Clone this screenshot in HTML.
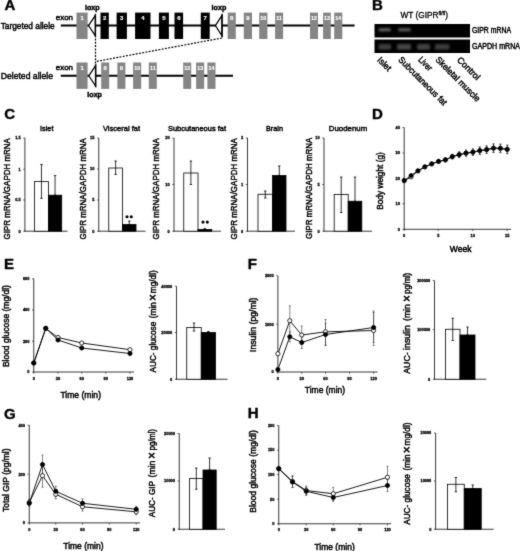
<!DOCTYPE html>
<html lang="en">
<head>
<meta charset="utf-8">
<title>Figure</title>
<style>
html,body{margin:0;padding:0;background:#fff;}
body{width:520px;height:551px;overflow:hidden;}
svg{display:block;font-family:"Liberation Sans", sans-serif;}
</style>
</head>
<body>
<svg width="520" height="551" viewBox="0 0 520 551">
<defs><filter id="bl" x="-20%" y="-50%" width="140%" height="200%"><feGaussianBlur stdDeviation="0.9"/></filter>
<filter id="soft" x="0" y="0" width="100%" height="100%" color-interpolation-filters="sRGB"><feConvolveMatrix order="3" kernelMatrix="0.0200 0.0800 0.0200 0.0800 0.6000 0.0800 0.0200 0.0800 0.0200" edgeMode="duplicate" preserveAlpha="true"/></filter></defs>
<g filter="url(#soft)">
<rect x="-5" y="-5" width="530" height="561" fill="#fff"/>
<text x="4.5" y="10.1" font-size="15" font-weight="bold" text-anchor="start" fill="#000" stroke="#000" stroke-width="0.4" >A</text>
<text x="0.7" y="29" font-size="8.5" font-weight="normal" text-anchor="start" fill="#000" stroke="#000" stroke-width="0.45" textLength="54" lengthAdjust="spacingAndGlyphs" >Targeted allele</text>
<text x="55.8" y="20" font-size="7.7" font-weight="normal" text-anchor="start" fill="#000" stroke="#000" stroke-width="0.45" textLength="17.2" lengthAdjust="spacingAndGlyphs" >exon</text>
<line x1="60.8" y1="25.6" x2="354.6" y2="25.6" stroke="#000" stroke-width="2.0" />
<rect x="76.5" y="12.6" width="11.1" height="26.4" fill="#858585"/>
<text x="82.05" y="20.1" font-size="6" font-weight="bold" text-anchor="middle" fill="#fff" stroke="#fff" stroke-width="0.15" >1</text>
<rect x="100.5" y="12.6" width="8.3" height="26.4" fill="#000"/>
<text x="104.65" y="20.1" font-size="6" font-weight="bold" text-anchor="middle" fill="#fff" stroke="#fff" stroke-width="0.15" >2</text>
<rect x="116.6" y="12.6" width="10.3" height="26.4" fill="#000"/>
<text x="121.75" y="20.1" font-size="6" font-weight="bold" text-anchor="middle" fill="#fff" stroke="#fff" stroke-width="0.15" >3</text>
<rect x="135.1" y="12.6" width="15.4" height="26.4" fill="#000"/>
<text x="142.8" y="20.1" font-size="6" font-weight="bold" text-anchor="middle" fill="#fff" stroke="#fff" stroke-width="0.15" >4</text>
<rect x="158.9" y="12.6" width="10.0" height="26.4" fill="#000"/>
<text x="163.9" y="20.1" font-size="6" font-weight="bold" text-anchor="middle" fill="#fff" stroke="#fff" stroke-width="0.15" >5</text>
<rect x="174.5" y="12.6" width="8.6" height="26.4" fill="#000"/>
<text x="178.8" y="20.1" font-size="6" font-weight="bold" text-anchor="middle" fill="#fff" stroke="#fff" stroke-width="0.15" >6</text>
<rect x="200.8" y="12.6" width="8.9" height="26.4" fill="#000"/>
<text x="205.25" y="20.1" font-size="6" font-weight="bold" text-anchor="middle" fill="#fff" stroke="#fff" stroke-width="0.15" >7</text>
<rect x="227.7" y="12.6" width="8.1" height="26.4" fill="#858585"/>
<text x="231.75" y="20.1" font-size="6" font-weight="bold" text-anchor="middle" fill="#fff" stroke="#fff" stroke-width="0.15" >8</text>
<rect x="243.8" y="12.6" width="8.2" height="26.4" fill="#858585"/>
<text x="247.9" y="20.1" font-size="6" font-weight="bold" text-anchor="middle" fill="#fff" stroke="#fff" stroke-width="0.15" >9</text>
<rect x="259.2" y="12.6" width="8.2" height="26.4" fill="#858585"/>
<text x="263.3" y="20.1" font-size="5.4" font-weight="bold" text-anchor="middle" fill="#fff" stroke="#fff" stroke-width="0.15" >10</text>
<rect x="275.1" y="12.6" width="8.0" height="26.4" fill="#858585"/>
<text x="279.1" y="20.1" font-size="5.4" font-weight="bold" text-anchor="middle" fill="#fff" stroke="#fff" stroke-width="0.15" >11</text>
<rect x="310" y="12.6" width="8" height="26.4" fill="#858585"/>
<text x="314.0" y="20.1" font-size="5.4" font-weight="bold" text-anchor="middle" fill="#fff" stroke="#fff" stroke-width="0.15" >12</text>
<rect x="323.1" y="12.6" width="7.7" height="26.4" fill="#858585"/>
<text x="326.95" y="20.1" font-size="5.4" font-weight="bold" text-anchor="middle" fill="#fff" stroke="#fff" stroke-width="0.15" >13</text>
<rect x="334.2" y="12.6" width="8.1" height="26.4" fill="#858585"/>
<text x="338.25" y="20.1" font-size="5.4" font-weight="bold" text-anchor="middle" fill="#fff" stroke="#fff" stroke-width="0.15" >14</text>
<polygon points="88.5,25.6 95.4,15.3 95.4,35.900000000000006" fill="#fff" stroke="#000" stroke-width="1.25" stroke-linejoin="miter"/>
<line x1="95.4" y1="14.100000000000001" x2="95.4" y2="37.10000000000001" stroke="#000" stroke-width="1.4" />
<polygon points="215.4,25.6 222,15.3 222,35.900000000000006" fill="#fff" stroke="#000" stroke-width="1.25" stroke-linejoin="miter"/>
<line x1="222" y1="14.100000000000001" x2="222" y2="37.10000000000001" stroke="#000" stroke-width="1.4" />
<text x="85" y="9.6" font-size="7.6" font-weight="bold" text-anchor="start" fill="#000" stroke="#000" stroke-width="0.45" textLength="14.7" lengthAdjust="spacingAndGlyphs" >loxp</text>
<text x="211.6" y="9.6" font-size="7.6" font-weight="bold" text-anchor="start" fill="#000" stroke="#000" stroke-width="0.45" textLength="14.7" lengthAdjust="spacingAndGlyphs" >loxp</text>
<line x1="95.5" y1="38.5" x2="95.5" y2="65" stroke="#000" stroke-width="1.2" stroke-dasharray="2,1.3"/>
<line x1="222" y1="38" x2="95.8" y2="61.5" stroke="#000" stroke-width="1.2" stroke-dasharray="2,1.3"/>
<text x="0.7" y="79" font-size="8.5" font-weight="normal" text-anchor="start" fill="#000" stroke="#000" stroke-width="0.45" textLength="52.3" lengthAdjust="spacingAndGlyphs" >Deleted allele</text>
<text x="55.8" y="69.8" font-size="7.7" font-weight="normal" text-anchor="start" fill="#000" stroke="#000" stroke-width="0.45" textLength="17.2" lengthAdjust="spacingAndGlyphs" >exon</text>
<line x1="60.8" y1="75.8" x2="233" y2="75.8" stroke="#000" stroke-width="2.0" />
<rect x="76.5" y="62.5" width="11.1" height="26.4" fill="#858585"/>
<text x="82.05" y="70.0" font-size="6" font-weight="bold" text-anchor="middle" fill="#fff" stroke="#fff" stroke-width="0.15" >1</text>
<rect x="101.2" y="62.5" width="8.0" height="26.4" fill="#858585"/>
<text x="105.2" y="70.0" font-size="6" font-weight="bold" text-anchor="middle" fill="#fff" stroke="#fff" stroke-width="0.15" >8</text>
<rect x="117.4" y="62.5" width="8.0" height="26.4" fill="#858585"/>
<text x="121.4" y="70.0" font-size="6" font-weight="bold" text-anchor="middle" fill="#fff" stroke="#fff" stroke-width="0.15" >9</text>
<rect x="133.1" y="62.5" width="8.1" height="26.4" fill="#858585"/>
<text x="137.15" y="70.0" font-size="5.4" font-weight="bold" text-anchor="middle" fill="#fff" stroke="#fff" stroke-width="0.15" >10</text>
<rect x="148.8" y="62.5" width="8.0" height="26.4" fill="#858585"/>
<text x="152.8" y="70.0" font-size="5.4" font-weight="bold" text-anchor="middle" fill="#fff" stroke="#fff" stroke-width="0.15" >11</text>
<rect x="183.2" y="62.5" width="8.0" height="26.4" fill="#858585"/>
<text x="187.2" y="70.0" font-size="5.4" font-weight="bold" text-anchor="middle" fill="#fff" stroke="#fff" stroke-width="0.15" >12</text>
<rect x="196.1" y="62.5" width="8.1" height="26.4" fill="#858585"/>
<text x="200.15" y="70.0" font-size="5.4" font-weight="bold" text-anchor="middle" fill="#fff" stroke="#fff" stroke-width="0.15" >13</text>
<rect x="207.4" y="62.5" width="8.1" height="26.4" fill="#858585"/>
<text x="211.45" y="70.0" font-size="5.4" font-weight="bold" text-anchor="middle" fill="#fff" stroke="#fff" stroke-width="0.15" >14</text>
<polygon points="88.8,75.8 95.6,65.6 95.6,86.0" fill="#fff" stroke="#000" stroke-width="1.25" stroke-linejoin="miter"/>
<line x1="95.6" y1="64.39999999999999" x2="95.6" y2="87.2" stroke="#000" stroke-width="1.4" />
<text x="87.3" y="97.3" font-size="7.6" font-weight="bold" text-anchor="start" fill="#000" stroke="#000" stroke-width="0.45" textLength="14.7" lengthAdjust="spacingAndGlyphs" >loxp</text>
<text x="371.9" y="10.0" font-size="15" font-weight="bold" text-anchor="start" fill="#000" stroke="#000" stroke-width="0.4" >B</text>
<text x="400.5" y="18.2" font-size="8.3" stroke="#000" stroke-width="0.3" textLength="47.5" lengthAdjust="spacingAndGlyphs">WT (GIPR<tspan font-size="5.4" dy="-3.2">fl/fl</tspan><tspan dy="3.2">)</tspan></text>
<rect x="374.5" y="24" width="95.5" height="13.5" fill="#000"/>
<rect x="374.5" y="39.5" width="95.5" height="13.5" fill="#000"/>
<rect x="378.5" y="28.3" width="12.5" height="3" rx="1.5" fill="#6a6a6a" filter="url(#bl)"/>
<rect x="398" y="28.3" width="13" height="3" rx="1.5" fill="#626262" filter="url(#bl)"/>
<rect x="378.5" y="44.1" width="12.5" height="5.6" rx="1.5" fill="#3e3e3e" filter="url(#bl)"/>
<rect x="397" y="44.1" width="14" height="5.6" rx="1.5" fill="#444" filter="url(#bl)"/>
<rect x="417" y="44.1" width="13" height="5.6" rx="1.5" fill="#424242" filter="url(#bl)"/>
<rect x="435" y="44.1" width="14.5" height="5.6" rx="1.5" fill="#3a3a3a" filter="url(#bl)"/>
<text x="472" y="33" font-size="8.3" font-weight="normal" text-anchor="start" fill="#000" stroke="#000" stroke-width="0.45" textLength="39" lengthAdjust="spacingAndGlyphs" >GIPR mRNA</text>
<text x="472" y="48.8" font-size="8.3" font-weight="normal" text-anchor="start" fill="#000" stroke="#000" stroke-width="0.45" textLength="48" lengthAdjust="spacingAndGlyphs" >GAPDH mRNA</text>
<text transform="translate(376.8,60.5) rotate(45)" font-size="8.8" font-weight="normal" text-anchor="start" fill="#000" stroke="#000" stroke-width="0.45" textLength="15.7" lengthAdjust="spacingAndGlyphs" >Islet</text>
<text transform="translate(397.8,60.3) rotate(45)" font-size="8.8" font-weight="normal" text-anchor="start" fill="#000" stroke="#000" stroke-width="0.45" textLength="64.5" lengthAdjust="spacingAndGlyphs" >Subcutaneous fat</text>
<text transform="translate(417.7,60.3) rotate(45)" font-size="8.8" font-weight="normal" text-anchor="start" fill="#000" stroke="#000" stroke-width="0.45" textLength="16" lengthAdjust="spacingAndGlyphs" >Liver</text>
<text transform="translate(435,60.3) rotate(45)" font-size="8.8" font-weight="normal" text-anchor="start" fill="#000" stroke="#000" stroke-width="0.45" textLength="59" lengthAdjust="spacingAndGlyphs" >Skeletal muscle</text>
<text transform="translate(456.5,60.5) rotate(45)" font-size="8.8" font-weight="normal" text-anchor="start" fill="#000" stroke="#000" stroke-width="0.45" textLength="28.5" lengthAdjust="spacingAndGlyphs" >Control</text>
<text x="4.3" y="119.4" font-size="15" font-weight="bold" text-anchor="start" fill="#000" stroke="#000" stroke-width="0.4" >C</text>
<line x1="24.9" y1="138" x2="24.9" y2="231.64999999999998" stroke="#222" stroke-width="0.9" />
<line x1="24.45" y1="231.2" x2="67.5" y2="231.2" stroke="#222" stroke-width="0.9" />
<line x1="23.2" y1="138" x2="24.9" y2="138" stroke="#222" stroke-width="0.7" />
<text x="20.599999999999998" y="139.4" font-size="3.9" font-weight="bold" text-anchor="end" fill="#000" stroke="#000" stroke-width="0.3" >1.5</text>
<line x1="23.2" y1="169.2" x2="24.9" y2="169.2" stroke="#222" stroke-width="0.7" />
<text x="20.599999999999998" y="170.6" font-size="3.9" font-weight="bold" text-anchor="end" fill="#000" stroke="#000" stroke-width="0.3" >1</text>
<line x1="23.2" y1="200" x2="24.9" y2="200" stroke="#222" stroke-width="0.7" />
<text x="20.599999999999998" y="201.4" font-size="3.9" font-weight="bold" text-anchor="end" fill="#000" stroke="#000" stroke-width="0.3" >0.5</text>
<line x1="23.2" y1="231.2" x2="24.9" y2="231.2" stroke="#222" stroke-width="0.7" />
<text x="20.599999999999998" y="232.6" font-size="3.9" font-weight="bold" text-anchor="end" fill="#000" stroke="#000" stroke-width="0.3" >0</text>
<rect x="34.5" y="181.6" width="13.899999999999999" height="49.599999999999994" fill="#fff" stroke="#000" stroke-width="0.8"/>
<line x1="41.45" y1="164.5" x2="41.45" y2="198.4" stroke="#000" stroke-width="0.8" />
<line x1="40.25" y1="164.5" x2="42.650000000000006" y2="164.5" stroke="#000" stroke-width="0.8" />
<line x1="40.25" y1="198.4" x2="42.650000000000006" y2="198.4" stroke="#000" stroke-width="0.8" />
<rect x="48.4" y="195.2" width="13.300000000000004" height="36.0" fill="#000" stroke="#000" stroke-width="0.8"/>
<line x1="55.05" y1="175.6" x2="55.05" y2="195.2" stroke="#000" stroke-width="0.8" />
<line x1="53.849999999999994" y1="175.6" x2="56.25" y2="175.6" stroke="#000" stroke-width="0.8" />
<line x1="53.849999999999994" y1="195.2" x2="56.25" y2="195.2" stroke="#000" stroke-width="0.8" />
<text x="40" y="130.6" font-size="8" font-weight="normal" text-anchor="start" fill="#000" stroke="#000" stroke-width="0.45" textLength="13.5" lengthAdjust="spacingAndGlyphs" >Islet</text>
<text transform="translate(9.6,188.8) rotate(-90)" font-size="8.7" font-weight="normal" text-anchor="middle" fill="#000" stroke="#000" stroke-width="0.45" textLength="101.5" lengthAdjust="spacingAndGlyphs" >GIPR mRNA/GAPDH mRNA</text>
<line x1="98.75" y1="138" x2="98.75" y2="231.64999999999998" stroke="#222" stroke-width="0.9" />
<line x1="98.3" y1="231.2" x2="145.5" y2="231.2" stroke="#222" stroke-width="0.9" />
<line x1="97.05" y1="138" x2="98.75" y2="138" stroke="#222" stroke-width="0.7" />
<text x="94.45" y="139.4" font-size="3.9" font-weight="bold" text-anchor="end" fill="#000" stroke="#000" stroke-width="0.3" >15</text>
<line x1="97.05" y1="169" x2="98.75" y2="169" stroke="#222" stroke-width="0.7" />
<text x="94.45" y="170.4" font-size="3.9" font-weight="bold" text-anchor="end" fill="#000" stroke="#000" stroke-width="0.3" >10</text>
<line x1="97.05" y1="200" x2="98.75" y2="200" stroke="#222" stroke-width="0.7" />
<text x="94.45" y="201.4" font-size="3.9" font-weight="bold" text-anchor="end" fill="#000" stroke="#000" stroke-width="0.3" >5</text>
<line x1="97.05" y1="231.2" x2="98.75" y2="231.2" stroke="#222" stroke-width="0.7" />
<text x="94.45" y="232.6" font-size="3.9" font-weight="bold" text-anchor="end" fill="#000" stroke="#000" stroke-width="0.3" >0</text>
<rect x="108.75" y="168" width="13.75" height="63.19999999999999" fill="#fff" stroke="#000" stroke-width="0.8"/>
<line x1="115.625" y1="161" x2="115.625" y2="174.5" stroke="#000" stroke-width="0.8" />
<line x1="114.425" y1="161" x2="116.825" y2="161" stroke="#000" stroke-width="0.8" />
<line x1="114.425" y1="174.5" x2="116.825" y2="174.5" stroke="#000" stroke-width="0.8" />
<rect x="122.5" y="224.5" width="13.5" height="6.699999999999989" fill="#000" stroke="#000" stroke-width="0.8"/>
<line x1="129.25" y1="221" x2="129.25" y2="224.5" stroke="#000" stroke-width="0.8" />
<line x1="128.05" y1="221" x2="130.45" y2="221" stroke="#000" stroke-width="0.8" />
<line x1="128.05" y1="224.5" x2="130.45" y2="224.5" stroke="#000" stroke-width="0.8" />
<text x="103" y="130.6" font-size="8" font-weight="normal" text-anchor="start" fill="#000" stroke="#000" stroke-width="0.45" textLength="37" lengthAdjust="spacingAndGlyphs" >Visceral fat</text>
<circle cx="127" cy="216.8" r="1.55" fill="#000" stroke="#000" stroke-width="0"/>
<circle cx="131.3" cy="216.8" r="1.55" fill="#000" stroke="#000" stroke-width="0"/>
<text transform="translate(85.8,188.8) rotate(-90)" font-size="8.7" font-weight="normal" text-anchor="middle" fill="#000" stroke="#000" stroke-width="0.45" textLength="101.5" lengthAdjust="spacingAndGlyphs" >GIPR mRNA/GAPDH mRNA</text>
<line x1="174" y1="138" x2="174" y2="231.64999999999998" stroke="#222" stroke-width="0.9" />
<line x1="173.55" y1="231.2" x2="221" y2="231.2" stroke="#222" stroke-width="0.9" />
<line x1="172.3" y1="138" x2="174" y2="138" stroke="#222" stroke-width="0.7" />
<text x="169.7" y="139.4" font-size="3.9" font-weight="bold" text-anchor="end" fill="#000" stroke="#000" stroke-width="0.3" >20</text>
<line x1="172.3" y1="184.5" x2="174" y2="184.5" stroke="#222" stroke-width="0.7" />
<text x="169.7" y="185.9" font-size="3.9" font-weight="bold" text-anchor="end" fill="#000" stroke="#000" stroke-width="0.3" >10</text>
<line x1="172.3" y1="231.2" x2="174" y2="231.2" stroke="#222" stroke-width="0.7" />
<text x="169.7" y="232.6" font-size="3.9" font-weight="bold" text-anchor="end" fill="#000" stroke="#000" stroke-width="0.3" >0</text>
<rect x="183.75" y="173" width="14.25" height="58.19999999999999" fill="#fff" stroke="#000" stroke-width="0.8"/>
<line x1="190.875" y1="161" x2="190.875" y2="184.5" stroke="#000" stroke-width="0.8" />
<line x1="189.675" y1="161" x2="192.075" y2="161" stroke="#000" stroke-width="0.8" />
<line x1="189.675" y1="184.5" x2="192.075" y2="184.5" stroke="#000" stroke-width="0.8" />
<rect x="198" y="229.5" width="13.75" height="1.6999999999999886" fill="#000" stroke="#000" stroke-width="0.8"/>
<line x1="204.875" y1="228.5" x2="204.875" y2="229.5" stroke="#000" stroke-width="0.8" />
<line x1="203.675" y1="228.5" x2="206.075" y2="228.5" stroke="#000" stroke-width="0.8" />
<line x1="203.675" y1="229.5" x2="206.075" y2="229.5" stroke="#000" stroke-width="0.8" />
<text x="168" y="130.6" font-size="8" font-weight="normal" text-anchor="start" fill="#000" stroke="#000" stroke-width="0.45" textLength="58" lengthAdjust="spacingAndGlyphs" >Subcutaneous fat</text>
<circle cx="203" cy="222.1" r="1.55" fill="#000" stroke="#000" stroke-width="0"/>
<circle cx="207.3" cy="222.1" r="1.55" fill="#000" stroke="#000" stroke-width="0"/>
<text transform="translate(159.2,188.8) rotate(-90)" font-size="8.7" font-weight="normal" text-anchor="middle" fill="#000" stroke="#000" stroke-width="0.45" textLength="101.5" lengthAdjust="spacingAndGlyphs" >GIPR mRNA/GAPDH mRNA</text>
<line x1="247.5" y1="138" x2="247.5" y2="231.64999999999998" stroke="#222" stroke-width="0.9" />
<line x1="247.05" y1="231.2" x2="295" y2="231.2" stroke="#222" stroke-width="0.9" />
<line x1="245.8" y1="138" x2="247.5" y2="138" stroke="#222" stroke-width="0.7" />
<text x="243.2" y="139.4" font-size="3.9" font-weight="bold" text-anchor="end" fill="#000" stroke="#000" stroke-width="0.3" >2</text>
<line x1="245.8" y1="184.5" x2="247.5" y2="184.5" stroke="#222" stroke-width="0.7" />
<text x="243.2" y="185.9" font-size="3.9" font-weight="bold" text-anchor="end" fill="#000" stroke="#000" stroke-width="0.3" >1</text>
<line x1="245.8" y1="231.2" x2="247.5" y2="231.2" stroke="#222" stroke-width="0.7" />
<text x="243.2" y="232.6" font-size="3.9" font-weight="bold" text-anchor="end" fill="#000" stroke="#000" stroke-width="0.3" >0</text>
<rect x="258" y="194.25" width="14.5" height="36.94999999999999" fill="#fff" stroke="#000" stroke-width="0.8"/>
<line x1="265.25" y1="191" x2="265.25" y2="198" stroke="#000" stroke-width="0.8" />
<line x1="264.05" y1="191" x2="266.45" y2="191" stroke="#000" stroke-width="0.8" />
<line x1="264.05" y1="198" x2="266.45" y2="198" stroke="#000" stroke-width="0.8" />
<rect x="272.5" y="175.5" width="13.5" height="55.69999999999999" fill="#000" stroke="#000" stroke-width="0.8"/>
<line x1="279.25" y1="166" x2="279.25" y2="175.5" stroke="#000" stroke-width="0.8" />
<line x1="278.05" y1="166" x2="280.45" y2="166" stroke="#000" stroke-width="0.8" />
<line x1="278.05" y1="175.5" x2="280.45" y2="175.5" stroke="#000" stroke-width="0.8" />
<text x="266" y="130.6" font-size="8" font-weight="normal" text-anchor="start" fill="#000" stroke="#000" stroke-width="0.45" textLength="17" lengthAdjust="spacingAndGlyphs" >Brain</text>
<text transform="translate(236.5,188.8) rotate(-90)" font-size="8.7" font-weight="normal" text-anchor="middle" fill="#000" stroke="#000" stroke-width="0.45" textLength="101.5" lengthAdjust="spacingAndGlyphs" >GIPR mRNA/GAPDH mRNA</text>
<line x1="324" y1="138" x2="324" y2="231.64999999999998" stroke="#222" stroke-width="0.9" />
<line x1="323.55" y1="231.2" x2="372" y2="231.2" stroke="#222" stroke-width="0.9" />
<line x1="322.3" y1="138" x2="324" y2="138" stroke="#222" stroke-width="0.7" />
<text x="319.7" y="139.4" font-size="3.9" font-weight="bold" text-anchor="end" fill="#000" stroke="#000" stroke-width="0.3" >10</text>
<line x1="322.3" y1="184.5" x2="324" y2="184.5" stroke="#222" stroke-width="0.7" />
<text x="319.7" y="185.9" font-size="3.9" font-weight="bold" text-anchor="end" fill="#000" stroke="#000" stroke-width="0.3" >5</text>
<line x1="322.3" y1="231.2" x2="324" y2="231.2" stroke="#222" stroke-width="0.7" />
<text x="319.7" y="232.6" font-size="3.9" font-weight="bold" text-anchor="end" fill="#000" stroke="#000" stroke-width="0.3" >0</text>
<rect x="334.2" y="194.5" width="14.0" height="36.69999999999999" fill="#fff" stroke="#000" stroke-width="0.8"/>
<line x1="341.2" y1="177" x2="341.2" y2="212.5" stroke="#000" stroke-width="0.8" />
<line x1="340.0" y1="177" x2="342.4" y2="177" stroke="#000" stroke-width="0.8" />
<line x1="340.0" y1="212.5" x2="342.4" y2="212.5" stroke="#000" stroke-width="0.8" />
<rect x="348.2" y="201.25" width="13.600000000000023" height="29.94999999999999" fill="#000" stroke="#000" stroke-width="0.8"/>
<line x1="355.0" y1="177" x2="355.0" y2="201.25" stroke="#000" stroke-width="0.8" />
<line x1="353.8" y1="177" x2="356.2" y2="177" stroke="#000" stroke-width="0.8" />
<line x1="353.8" y1="201.25" x2="356.2" y2="201.25" stroke="#000" stroke-width="0.8" />
<text x="328.75" y="130.6" font-size="8" font-weight="normal" text-anchor="start" fill="#000" stroke="#000" stroke-width="0.45" textLength="38.5" lengthAdjust="spacingAndGlyphs" >Duodenum</text>
<text transform="translate(311.5,188.3) rotate(-90)" font-size="8.7" font-weight="normal" text-anchor="middle" fill="#000" stroke="#000" stroke-width="0.45" textLength="101.5" lengthAdjust="spacingAndGlyphs" >GIPR mRNA/GAPDH mRNA</text>
<text x="371.9" y="119.2" font-size="15" font-weight="bold" text-anchor="start" fill="#000" stroke="#000" stroke-width="0.4" >D</text>
<line x1="404.2" y1="127.5" x2="404.2" y2="229.75" stroke="#222" stroke-width="0.9" />
<line x1="403.75" y1="229.3" x2="511" y2="229.3" stroke="#222" stroke-width="0.9" />
<line x1="402.5" y1="127.5" x2="404.2" y2="127.5" stroke="#222" stroke-width="0.7" />
<text x="399.9" y="128.9" font-size="3.9" font-weight="bold" text-anchor="end" fill="#000" stroke="#000" stroke-width="0.3" >40</text>
<line x1="402.5" y1="153" x2="404.2" y2="153" stroke="#222" stroke-width="0.7" />
<text x="399.9" y="154.4" font-size="3.9" font-weight="bold" text-anchor="end" fill="#000" stroke="#000" stroke-width="0.3" >30</text>
<line x1="402.5" y1="178.3" x2="404.2" y2="178.3" stroke="#222" stroke-width="0.7" />
<text x="399.9" y="179.70000000000002" font-size="3.9" font-weight="bold" text-anchor="end" fill="#000" stroke="#000" stroke-width="0.3" >20</text>
<line x1="402.5" y1="203.7" x2="404.2" y2="203.7" stroke="#222" stroke-width="0.7" />
<text x="399.9" y="205.1" font-size="3.9" font-weight="bold" text-anchor="end" fill="#000" stroke="#000" stroke-width="0.3" >10</text>
<line x1="402.5" y1="229.3" x2="404.2" y2="229.3" stroke="#222" stroke-width="0.7" />
<text x="399.9" y="230.70000000000002" font-size="3.9" font-weight="bold" text-anchor="end" fill="#000" stroke="#000" stroke-width="0.3" >0</text>
<line x1="404.2" y1="229.3" x2="404.2" y2="231.0" stroke="#222" stroke-width="0.7" />
<text x="404.2" y="236.9" font-size="3.9" font-weight="bold" text-anchor="middle" fill="#000" stroke="#000" stroke-width="0.3" >0</text>
<line x1="438.3" y1="229.3" x2="438.3" y2="231.0" stroke="#222" stroke-width="0.7" />
<text x="438.3" y="236.9" font-size="3.9" font-weight="bold" text-anchor="middle" fill="#000" stroke="#000" stroke-width="0.3" >5</text>
<line x1="472.7" y1="229.3" x2="472.7" y2="231.0" stroke="#222" stroke-width="0.7" />
<text x="472.7" y="236.9" font-size="3.9" font-weight="bold" text-anchor="middle" fill="#000" stroke="#000" stroke-width="0.3" >10</text>
<line x1="507.2" y1="229.3" x2="507.2" y2="231.0" stroke="#222" stroke-width="0.7" />
<text x="507.2" y="236.9" font-size="3.9" font-weight="bold" text-anchor="middle" fill="#000" stroke="#000" stroke-width="0.3" >15</text>
<polyline points="404.2,180.8 411.07,177.0 417.94,171.05 424.81,167.05 431.68,164.05 438.55,161.55 445.42,160.05 452.29,156.8 459.16,154.8 466.03,153.3 472.9,152.3 479.77,150.8 486.64,149.8 493.51,148.3 500.38,148.55 507.25,149.55" fill="none" stroke="#000" stroke-width="0.9"/>
<polyline points="404.2,180.5 411.07,175.5 417.94,170.75 424.81,166.75 431.68,163.75 438.55,161.25 445.42,159.75 452.29,156.5 459.16,154.5 466.03,153 472.9,152 479.77,150.5 486.64,149.5 493.51,148 500.38,148.25 507.25,149.25" fill="none" stroke="#000" stroke-width="0.9"/>
<line x1="404.2" y1="179.8" x2="404.2" y2="181.8" stroke="#333" stroke-width="0.6" />
<line x1="403.2" y1="179.8" x2="405.2" y2="179.8" stroke="#333" stroke-width="0.6" />
<line x1="403.2" y1="181.8" x2="405.2" y2="181.8" stroke="#333" stroke-width="0.6" />
<line x1="411.07" y1="175.8" x2="411.07" y2="178.2" stroke="#333" stroke-width="0.6" />
<line x1="410.07" y1="175.8" x2="412.07" y2="175.8" stroke="#333" stroke-width="0.6" />
<line x1="410.07" y1="178.2" x2="412.07" y2="178.2" stroke="#333" stroke-width="0.6" />
<line x1="417.94" y1="169.85000000000002" x2="417.94" y2="172.25" stroke="#333" stroke-width="0.6" />
<line x1="416.94" y1="169.85000000000002" x2="418.94" y2="169.85000000000002" stroke="#333" stroke-width="0.6" />
<line x1="416.94" y1="172.25" x2="418.94" y2="172.25" stroke="#333" stroke-width="0.6" />
<line x1="424.81" y1="165.75" x2="424.81" y2="168.35000000000002" stroke="#333" stroke-width="0.6" />
<line x1="423.81" y1="165.75" x2="425.81" y2="165.75" stroke="#333" stroke-width="0.6" />
<line x1="423.81" y1="168.35000000000002" x2="425.81" y2="168.35000000000002" stroke="#333" stroke-width="0.6" />
<line x1="431.68" y1="162.65" x2="431.68" y2="165.45000000000002" stroke="#333" stroke-width="0.6" />
<line x1="430.68" y1="162.65" x2="432.68" y2="162.65" stroke="#333" stroke-width="0.6" />
<line x1="430.68" y1="165.45000000000002" x2="432.68" y2="165.45000000000002" stroke="#333" stroke-width="0.6" />
<line x1="438.55" y1="160.05" x2="438.55" y2="163.05" stroke="#333" stroke-width="0.6" />
<line x1="437.55" y1="160.05" x2="439.55" y2="160.05" stroke="#333" stroke-width="0.6" />
<line x1="437.55" y1="163.05" x2="439.55" y2="163.05" stroke="#333" stroke-width="0.6" />
<line x1="445.42" y1="158.25" x2="445.42" y2="161.85000000000002" stroke="#333" stroke-width="0.6" />
<line x1="444.42" y1="158.25" x2="446.42" y2="158.25" stroke="#333" stroke-width="0.6" />
<line x1="444.42" y1="161.85000000000002" x2="446.42" y2="161.85000000000002" stroke="#333" stroke-width="0.6" />
<line x1="452.29" y1="154.60000000000002" x2="452.29" y2="159.0" stroke="#333" stroke-width="0.6" />
<line x1="451.29" y1="154.60000000000002" x2="453.29" y2="154.60000000000002" stroke="#333" stroke-width="0.6" />
<line x1="451.29" y1="159.0" x2="453.29" y2="159.0" stroke="#333" stroke-width="0.6" />
<line x1="459.16" y1="152.0" x2="459.16" y2="157.60000000000002" stroke="#333" stroke-width="0.6" />
<line x1="458.16" y1="152.0" x2="460.16" y2="152.0" stroke="#333" stroke-width="0.6" />
<line x1="458.16" y1="157.60000000000002" x2="460.16" y2="157.60000000000002" stroke="#333" stroke-width="0.6" />
<line x1="466.03" y1="150.3" x2="466.03" y2="156.3" stroke="#333" stroke-width="0.6" />
<line x1="465.03" y1="150.3" x2="467.03" y2="150.3" stroke="#333" stroke-width="0.6" />
<line x1="465.03" y1="156.3" x2="467.03" y2="156.3" stroke="#333" stroke-width="0.6" />
<line x1="472.9" y1="149.10000000000002" x2="472.9" y2="155.5" stroke="#333" stroke-width="0.6" />
<line x1="471.9" y1="149.10000000000002" x2="473.9" y2="149.10000000000002" stroke="#333" stroke-width="0.6" />
<line x1="471.9" y1="155.5" x2="473.9" y2="155.5" stroke="#333" stroke-width="0.6" />
<line x1="479.77" y1="147.10000000000002" x2="479.77" y2="154.5" stroke="#333" stroke-width="0.6" />
<line x1="478.77" y1="147.10000000000002" x2="480.77" y2="147.10000000000002" stroke="#333" stroke-width="0.6" />
<line x1="478.77" y1="154.5" x2="480.77" y2="154.5" stroke="#333" stroke-width="0.6" />
<line x1="486.64" y1="146.10000000000002" x2="486.64" y2="153.5" stroke="#333" stroke-width="0.6" />
<line x1="485.64" y1="146.10000000000002" x2="487.64" y2="146.10000000000002" stroke="#333" stroke-width="0.6" />
<line x1="485.64" y1="153.5" x2="487.64" y2="153.5" stroke="#333" stroke-width="0.6" />
<line x1="493.51" y1="144.10000000000002" x2="493.51" y2="152.5" stroke="#333" stroke-width="0.6" />
<line x1="492.51" y1="144.10000000000002" x2="494.51" y2="144.10000000000002" stroke="#333" stroke-width="0.6" />
<line x1="492.51" y1="152.5" x2="494.51" y2="152.5" stroke="#333" stroke-width="0.6" />
<line x1="500.38" y1="144.35000000000002" x2="500.38" y2="152.75" stroke="#333" stroke-width="0.6" />
<line x1="499.38" y1="144.35000000000002" x2="501.38" y2="144.35000000000002" stroke="#333" stroke-width="0.6" />
<line x1="499.38" y1="152.75" x2="501.38" y2="152.75" stroke="#333" stroke-width="0.6" />
<line x1="507.25" y1="145.35000000000002" x2="507.25" y2="153.75" stroke="#333" stroke-width="0.6" />
<line x1="506.25" y1="145.35000000000002" x2="508.25" y2="145.35000000000002" stroke="#333" stroke-width="0.6" />
<line x1="506.25" y1="153.75" x2="508.25" y2="153.75" stroke="#333" stroke-width="0.6" />
<line x1="404.2" y1="179.5" x2="404.2" y2="181.5" stroke="#333" stroke-width="0.6" />
<line x1="403.2" y1="179.5" x2="405.2" y2="179.5" stroke="#333" stroke-width="0.6" />
<line x1="403.2" y1="181.5" x2="405.2" y2="181.5" stroke="#333" stroke-width="0.6" />
<line x1="411.07" y1="174.3" x2="411.07" y2="176.7" stroke="#333" stroke-width="0.6" />
<line x1="410.07" y1="174.3" x2="412.07" y2="174.3" stroke="#333" stroke-width="0.6" />
<line x1="410.07" y1="176.7" x2="412.07" y2="176.7" stroke="#333" stroke-width="0.6" />
<line x1="417.94" y1="169.55" x2="417.94" y2="171.95" stroke="#333" stroke-width="0.6" />
<line x1="416.94" y1="169.55" x2="418.94" y2="169.55" stroke="#333" stroke-width="0.6" />
<line x1="416.94" y1="171.95" x2="418.94" y2="171.95" stroke="#333" stroke-width="0.6" />
<line x1="424.81" y1="165.45" x2="424.81" y2="168.05" stroke="#333" stroke-width="0.6" />
<line x1="423.81" y1="165.45" x2="425.81" y2="165.45" stroke="#333" stroke-width="0.6" />
<line x1="423.81" y1="168.05" x2="425.81" y2="168.05" stroke="#333" stroke-width="0.6" />
<line x1="431.68" y1="162.35" x2="431.68" y2="165.15" stroke="#333" stroke-width="0.6" />
<line x1="430.68" y1="162.35" x2="432.68" y2="162.35" stroke="#333" stroke-width="0.6" />
<line x1="430.68" y1="165.15" x2="432.68" y2="165.15" stroke="#333" stroke-width="0.6" />
<line x1="438.55" y1="159.75" x2="438.55" y2="162.75" stroke="#333" stroke-width="0.6" />
<line x1="437.55" y1="159.75" x2="439.55" y2="159.75" stroke="#333" stroke-width="0.6" />
<line x1="437.55" y1="162.75" x2="439.55" y2="162.75" stroke="#333" stroke-width="0.6" />
<line x1="445.42" y1="157.95" x2="445.42" y2="161.55" stroke="#333" stroke-width="0.6" />
<line x1="444.42" y1="157.95" x2="446.42" y2="157.95" stroke="#333" stroke-width="0.6" />
<line x1="444.42" y1="161.55" x2="446.42" y2="161.55" stroke="#333" stroke-width="0.6" />
<line x1="452.29" y1="154.3" x2="452.29" y2="158.7" stroke="#333" stroke-width="0.6" />
<line x1="451.29" y1="154.3" x2="453.29" y2="154.3" stroke="#333" stroke-width="0.6" />
<line x1="451.29" y1="158.7" x2="453.29" y2="158.7" stroke="#333" stroke-width="0.6" />
<line x1="459.16" y1="151.7" x2="459.16" y2="157.3" stroke="#333" stroke-width="0.6" />
<line x1="458.16" y1="151.7" x2="460.16" y2="151.7" stroke="#333" stroke-width="0.6" />
<line x1="458.16" y1="157.3" x2="460.16" y2="157.3" stroke="#333" stroke-width="0.6" />
<line x1="466.03" y1="150" x2="466.03" y2="156" stroke="#333" stroke-width="0.6" />
<line x1="465.03" y1="150" x2="467.03" y2="150" stroke="#333" stroke-width="0.6" />
<line x1="465.03" y1="156" x2="467.03" y2="156" stroke="#333" stroke-width="0.6" />
<line x1="472.9" y1="148.8" x2="472.9" y2="155.2" stroke="#333" stroke-width="0.6" />
<line x1="471.9" y1="148.8" x2="473.9" y2="148.8" stroke="#333" stroke-width="0.6" />
<line x1="471.9" y1="155.2" x2="473.9" y2="155.2" stroke="#333" stroke-width="0.6" />
<line x1="479.77" y1="146.8" x2="479.77" y2="154.2" stroke="#333" stroke-width="0.6" />
<line x1="478.77" y1="146.8" x2="480.77" y2="146.8" stroke="#333" stroke-width="0.6" />
<line x1="478.77" y1="154.2" x2="480.77" y2="154.2" stroke="#333" stroke-width="0.6" />
<line x1="486.64" y1="145.8" x2="486.64" y2="153.2" stroke="#333" stroke-width="0.6" />
<line x1="485.64" y1="145.8" x2="487.64" y2="145.8" stroke="#333" stroke-width="0.6" />
<line x1="485.64" y1="153.2" x2="487.64" y2="153.2" stroke="#333" stroke-width="0.6" />
<line x1="493.51" y1="143.8" x2="493.51" y2="152.2" stroke="#333" stroke-width="0.6" />
<line x1="492.51" y1="143.8" x2="494.51" y2="143.8" stroke="#333" stroke-width="0.6" />
<line x1="492.51" y1="152.2" x2="494.51" y2="152.2" stroke="#333" stroke-width="0.6" />
<line x1="500.38" y1="144.05" x2="500.38" y2="152.45" stroke="#333" stroke-width="0.6" />
<line x1="499.38" y1="144.05" x2="501.38" y2="144.05" stroke="#333" stroke-width="0.6" />
<line x1="499.38" y1="152.45" x2="501.38" y2="152.45" stroke="#333" stroke-width="0.6" />
<line x1="507.25" y1="145.05" x2="507.25" y2="153.45" stroke="#333" stroke-width="0.6" />
<line x1="506.25" y1="145.05" x2="508.25" y2="145.05" stroke="#333" stroke-width="0.6" />
<line x1="506.25" y1="153.45" x2="508.25" y2="153.45" stroke="#333" stroke-width="0.6" />
<circle cx="404.2" cy="180.8" r="2.0" fill="#fff" stroke="#000" stroke-width="0.8"/>
<circle cx="411.07" cy="177.0" r="2.0" fill="#fff" stroke="#000" stroke-width="0.8"/>
<circle cx="417.94" cy="171.05" r="2.0" fill="#fff" stroke="#000" stroke-width="0.8"/>
<circle cx="424.81" cy="167.05" r="2.0" fill="#fff" stroke="#000" stroke-width="0.8"/>
<circle cx="431.68" cy="164.05" r="2.0" fill="#fff" stroke="#000" stroke-width="0.8"/>
<circle cx="438.55" cy="161.55" r="2.0" fill="#fff" stroke="#000" stroke-width="0.8"/>
<circle cx="445.42" cy="160.05" r="2.0" fill="#fff" stroke="#000" stroke-width="0.8"/>
<circle cx="452.29" cy="156.8" r="2.0" fill="#fff" stroke="#000" stroke-width="0.8"/>
<circle cx="459.16" cy="154.8" r="2.0" fill="#fff" stroke="#000" stroke-width="0.8"/>
<circle cx="466.03" cy="153.3" r="2.0" fill="#fff" stroke="#000" stroke-width="0.8"/>
<circle cx="472.9" cy="152.3" r="2.0" fill="#fff" stroke="#000" stroke-width="0.8"/>
<circle cx="479.77" cy="150.8" r="2.0" fill="#fff" stroke="#000" stroke-width="0.8"/>
<circle cx="486.64" cy="149.8" r="2.0" fill="#fff" stroke="#000" stroke-width="0.8"/>
<circle cx="493.51" cy="148.3" r="2.0" fill="#fff" stroke="#000" stroke-width="0.8"/>
<circle cx="500.38" cy="148.55" r="2.0" fill="#fff" stroke="#000" stroke-width="0.8"/>
<circle cx="507.25" cy="149.55" r="2.0" fill="#fff" stroke="#000" stroke-width="0.8"/>
<circle cx="404.2" cy="180.5" r="2.0" fill="#000" stroke="#000" stroke-width="0.8"/>
<circle cx="411.07" cy="175.5" r="2.0" fill="#000" stroke="#000" stroke-width="0.8"/>
<circle cx="417.94" cy="170.75" r="2.0" fill="#000" stroke="#000" stroke-width="0.8"/>
<circle cx="424.81" cy="166.75" r="2.0" fill="#000" stroke="#000" stroke-width="0.8"/>
<circle cx="431.68" cy="163.75" r="2.0" fill="#000" stroke="#000" stroke-width="0.8"/>
<circle cx="438.55" cy="161.25" r="2.0" fill="#000" stroke="#000" stroke-width="0.8"/>
<circle cx="445.42" cy="159.75" r="2.0" fill="#000" stroke="#000" stroke-width="0.8"/>
<circle cx="452.29" cy="156.5" r="2.0" fill="#000" stroke="#000" stroke-width="0.8"/>
<circle cx="459.16" cy="154.5" r="2.0" fill="#000" stroke="#000" stroke-width="0.8"/>
<circle cx="466.03" cy="153" r="2.0" fill="#000" stroke="#000" stroke-width="0.8"/>
<circle cx="472.9" cy="152" r="2.0" fill="#000" stroke="#000" stroke-width="0.8"/>
<circle cx="479.77" cy="150.5" r="2.0" fill="#000" stroke="#000" stroke-width="0.8"/>
<circle cx="486.64" cy="149.5" r="2.0" fill="#000" stroke="#000" stroke-width="0.8"/>
<circle cx="493.51" cy="148" r="2.0" fill="#000" stroke="#000" stroke-width="0.8"/>
<circle cx="500.38" cy="148.25" r="2.0" fill="#000" stroke="#000" stroke-width="0.8"/>
<circle cx="507.25" cy="149.25" r="2.0" fill="#000" stroke="#000" stroke-width="0.8"/>
<text transform="translate(382.9,181) rotate(-90)" font-size="8.7" font-weight="normal" text-anchor="middle" fill="#000" stroke="#000" stroke-width="0.45" textLength="57.5" lengthAdjust="spacingAndGlyphs" >Body weight (g)</text>
<text x="449.8" y="252.2" font-size="9" font-weight="normal" text-anchor="start" fill="#000" stroke="#000" stroke-width="0.5" textLength="21.7" lengthAdjust="spacingAndGlyphs" >Week</text>
<text x="4.0" y="268.5" font-size="15" font-weight="bold" text-anchor="start" fill="#000" stroke="#000" stroke-width="0.4" >E</text>
<line x1="33.75" y1="278.75" x2="33.75" y2="372.45" stroke="#222" stroke-width="0.9" />
<line x1="33.3" y1="372" x2="134" y2="372" stroke="#222" stroke-width="0.9" />
<line x1="32.05" y1="278.75" x2="33.75" y2="278.75" stroke="#222" stroke-width="0.7" />
<text x="29.45" y="280.15" font-size="3.9" font-weight="bold" text-anchor="end" fill="#000" stroke="#000" stroke-width="0.3" >600</text>
<line x1="32.05" y1="310" x2="33.75" y2="310" stroke="#222" stroke-width="0.7" />
<text x="29.45" y="311.4" font-size="3.9" font-weight="bold" text-anchor="end" fill="#000" stroke="#000" stroke-width="0.3" >400</text>
<line x1="32.05" y1="341.25" x2="33.75" y2="341.25" stroke="#222" stroke-width="0.7" />
<text x="29.45" y="342.65" font-size="3.9" font-weight="bold" text-anchor="end" fill="#000" stroke="#000" stroke-width="0.3" >200</text>
<line x1="32.05" y1="372" x2="33.75" y2="372" stroke="#222" stroke-width="0.7" />
<text x="29.45" y="373.4" font-size="3.9" font-weight="bold" text-anchor="end" fill="#000" stroke="#000" stroke-width="0.3" >0</text>
<line x1="33.75" y1="372" x2="33.75" y2="373.7" stroke="#222" stroke-width="0.7" />
<text x="33.75" y="379.6" font-size="3.9" font-weight="bold" text-anchor="middle" fill="#000" stroke="#000" stroke-width="0.3" >0</text>
<line x1="58" y1="372" x2="58" y2="373.7" stroke="#222" stroke-width="0.7" />
<text x="58" y="379.6" font-size="3.9" font-weight="bold" text-anchor="middle" fill="#000" stroke="#000" stroke-width="0.3" >30</text>
<line x1="81.75" y1="372" x2="81.75" y2="373.7" stroke="#222" stroke-width="0.7" />
<text x="81.75" y="379.6" font-size="3.9" font-weight="bold" text-anchor="middle" fill="#000" stroke="#000" stroke-width="0.3" >60</text>
<line x1="105.75" y1="372" x2="105.75" y2="373.7" stroke="#222" stroke-width="0.7" />
<text x="105.75" y="379.6" font-size="3.9" font-weight="bold" text-anchor="middle" fill="#000" stroke="#000" stroke-width="0.3" >90</text>
<line x1="130" y1="372" x2="130" y2="373.7" stroke="#222" stroke-width="0.7" />
<text x="130" y="379.6" font-size="3.9" font-weight="bold" text-anchor="middle" fill="#000" stroke="#000" stroke-width="0.3" >120</text>
<polyline points="33.75,363 45.75,328.5 58,337.5 81.75,343 130,349.7" fill="none" stroke="#000" stroke-width="0.9"/>
<polyline points="33.75,363 45.75,328.25 58,340 81.75,348 130,353.5" fill="none" stroke="#000" stroke-width="0.9"/>
<line x1="58" y1="336.0" x2="58" y2="339.0" stroke="#333" stroke-width="0.6" />
<line x1="57.0" y1="336.0" x2="59.0" y2="336.0" stroke="#333" stroke-width="0.6" />
<line x1="57.0" y1="339.0" x2="59.0" y2="339.0" stroke="#333" stroke-width="0.6" />
<line x1="81.75" y1="341.8" x2="81.75" y2="344.2" stroke="#333" stroke-width="0.6" />
<line x1="80.75" y1="341.8" x2="82.75" y2="341.8" stroke="#333" stroke-width="0.6" />
<line x1="80.75" y1="344.2" x2="82.75" y2="344.2" stroke="#333" stroke-width="0.6" />
<line x1="130" y1="348.2" x2="130" y2="351.2" stroke="#333" stroke-width="0.6" />
<line x1="129.0" y1="348.2" x2="131.0" y2="348.2" stroke="#333" stroke-width="0.6" />
<line x1="129.0" y1="351.2" x2="131.0" y2="351.2" stroke="#333" stroke-width="0.6" />
<line x1="45.75" y1="327.25" x2="45.75" y2="329.25" stroke="#333" stroke-width="0.6" />
<line x1="44.75" y1="327.25" x2="46.75" y2="327.25" stroke="#333" stroke-width="0.6" />
<line x1="44.75" y1="329.25" x2="46.75" y2="329.25" stroke="#333" stroke-width="0.6" />
<line x1="58" y1="339" x2="58" y2="341" stroke="#333" stroke-width="0.6" />
<line x1="57.0" y1="339" x2="59.0" y2="339" stroke="#333" stroke-width="0.6" />
<line x1="57.0" y1="341" x2="59.0" y2="341" stroke="#333" stroke-width="0.6" />
<line x1="81.75" y1="347" x2="81.75" y2="349" stroke="#333" stroke-width="0.6" />
<line x1="80.75" y1="347" x2="82.75" y2="347" stroke="#333" stroke-width="0.6" />
<line x1="80.75" y1="349" x2="82.75" y2="349" stroke="#333" stroke-width="0.6" />
<line x1="130" y1="352.5" x2="130" y2="354.5" stroke="#333" stroke-width="0.6" />
<line x1="129.0" y1="352.5" x2="131.0" y2="352.5" stroke="#333" stroke-width="0.6" />
<line x1="129.0" y1="354.5" x2="131.0" y2="354.5" stroke="#333" stroke-width="0.6" />
<circle cx="33.75" cy="363" r="2.1" fill="#fff" stroke="#000" stroke-width="0.8"/>
<circle cx="45.75" cy="328.5" r="2.1" fill="#fff" stroke="#000" stroke-width="0.8"/>
<circle cx="58" cy="337.5" r="2.1" fill="#fff" stroke="#000" stroke-width="0.8"/>
<circle cx="81.75" cy="343" r="2.1" fill="#fff" stroke="#000" stroke-width="0.8"/>
<circle cx="130" cy="349.7" r="2.1" fill="#fff" stroke="#000" stroke-width="0.8"/>
<circle cx="33.75" cy="363" r="2.1" fill="#000" stroke="#000" stroke-width="0.8"/>
<circle cx="45.75" cy="328.25" r="2.1" fill="#000" stroke="#000" stroke-width="0.8"/>
<circle cx="58" cy="340" r="2.1" fill="#000" stroke="#000" stroke-width="0.8"/>
<circle cx="81.75" cy="348" r="2.1" fill="#000" stroke="#000" stroke-width="0.8"/>
<circle cx="130" cy="353.5" r="2.1" fill="#000" stroke="#000" stroke-width="0.8"/>
<text transform="translate(8.8,326.1) rotate(-90)" font-size="8.7" font-weight="normal" text-anchor="middle" fill="#000" stroke="#000" stroke-width="0.45" textLength="82" lengthAdjust="spacingAndGlyphs" >Blood glucose (mg/dl)</text>
<text x="80.7" y="397.5" font-size="8.4" font-weight="normal" text-anchor="middle" fill="#000" stroke="#000" stroke-width="0.45" textLength="40.6" lengthAdjust="spacingAndGlyphs" >Time (min)</text>
<line x1="176.5" y1="286.25" x2="176.5" y2="379.7" stroke="#222" stroke-width="0.9" />
<line x1="176.05" y1="379.25" x2="227.5" y2="379.25" stroke="#222" stroke-width="0.9" />
<line x1="174.8" y1="286.25" x2="176.5" y2="286.25" stroke="#222" stroke-width="0.7" />
<text x="172.2" y="287.65" font-size="3.9" font-weight="bold" text-anchor="end" fill="#000" stroke="#000" stroke-width="0.3" >40000</text>
<line x1="174.8" y1="332.5" x2="176.5" y2="332.5" stroke="#222" stroke-width="0.7" />
<text x="172.2" y="333.9" font-size="3.9" font-weight="bold" text-anchor="end" fill="#000" stroke="#000" stroke-width="0.3" >20000</text>
<line x1="174.8" y1="379.25" x2="176.5" y2="379.25" stroke="#222" stroke-width="0.7" />
<text x="172.2" y="380.65" font-size="3.9" font-weight="bold" text-anchor="end" fill="#000" stroke="#000" stroke-width="0.3" >0</text>
<rect x="186.75" y="327.5" width="14.5" height="51.75" fill="#fff" stroke="#000" stroke-width="0.8"/>
<line x1="194.0" y1="323" x2="194.0" y2="331" stroke="#000" stroke-width="0.8" />
<line x1="192.8" y1="323" x2="195.2" y2="323" stroke="#000" stroke-width="0.8" />
<line x1="192.8" y1="331" x2="195.2" y2="331" stroke="#000" stroke-width="0.8" />
<rect x="201.25" y="332.5" width="14.25" height="46.75" fill="#000" stroke="#000" stroke-width="0.8"/>
<line x1="208.375" y1="331.5" x2="208.375" y2="332.5" stroke="#000" stroke-width="0.8" />
<line x1="207.175" y1="331.5" x2="209.575" y2="331.5" stroke="#000" stroke-width="0.8" />
<line x1="207.175" y1="332.5" x2="209.575" y2="332.5" stroke="#000" stroke-width="0.8" />
<g transform="translate(155.8,372.5) rotate(-90)" font-size="8.7" stroke="#000" stroke-width="0.45">
<text x="0" y="0" textLength="50.7" lengthAdjust="spacingAndGlyphs">AUC- glucose</text>
<text x="54.3" y="0" textLength="16.0" lengthAdjust="spacingAndGlyphs">(min</text>
<text x="79.3" y="0" textLength="23.0" lengthAdjust="spacingAndGlyphs">mg/dl)</text>
<text x="75.1" y="1.1" font-size="12" text-anchor="middle" stroke-width="0.5">×</text>
</g>
<text x="247.8" y="268.6" font-size="15" font-weight="bold" text-anchor="start" fill="#000" stroke="#000" stroke-width="0.4" >F</text>
<line x1="277.9" y1="275.75" x2="277.9" y2="372.45" stroke="#222" stroke-width="0.9" />
<line x1="277.45" y1="372" x2="377.5" y2="372" stroke="#222" stroke-width="0.9" />
<line x1="276.2" y1="275.75" x2="277.9" y2="275.75" stroke="#222" stroke-width="0.7" />
<text x="273.59999999999997" y="277.15" font-size="3.9" font-weight="bold" text-anchor="end" fill="#000" stroke="#000" stroke-width="0.3" >2000</text>
<line x1="276.2" y1="324.1" x2="277.9" y2="324.1" stroke="#222" stroke-width="0.7" />
<text x="273.59999999999997" y="325.5" font-size="3.9" font-weight="bold" text-anchor="end" fill="#000" stroke="#000" stroke-width="0.3" >1000</text>
<line x1="276.2" y1="372" x2="277.9" y2="372" stroke="#222" stroke-width="0.7" />
<text x="273.59999999999997" y="373.4" font-size="3.9" font-weight="bold" text-anchor="end" fill="#000" stroke="#000" stroke-width="0.3" >0</text>
<line x1="277.9" y1="372" x2="277.9" y2="373.7" stroke="#222" stroke-width="0.7" />
<text x="277.9" y="379.6" font-size="3.9" font-weight="bold" text-anchor="middle" fill="#000" stroke="#000" stroke-width="0.3" >0</text>
<line x1="301.75" y1="372" x2="301.75" y2="373.7" stroke="#222" stroke-width="0.7" />
<text x="301.75" y="379.6" font-size="3.9" font-weight="bold" text-anchor="middle" fill="#000" stroke="#000" stroke-width="0.3" >30</text>
<line x1="325.5" y1="372" x2="325.5" y2="373.7" stroke="#222" stroke-width="0.7" />
<text x="325.5" y="379.6" font-size="3.9" font-weight="bold" text-anchor="middle" fill="#000" stroke="#000" stroke-width="0.3" >60</text>
<line x1="349.5" y1="372" x2="349.5" y2="373.7" stroke="#222" stroke-width="0.7" />
<text x="349.5" y="379.6" font-size="3.9" font-weight="bold" text-anchor="middle" fill="#000" stroke="#000" stroke-width="0.3" >90</text>
<line x1="373.6" y1="372" x2="373.6" y2="373.7" stroke="#222" stroke-width="0.7" />
<text x="373.6" y="379.6" font-size="3.9" font-weight="bold" text-anchor="middle" fill="#000" stroke="#000" stroke-width="0.3" >120</text>
<polyline points="277.9,353.75 289.8,320.75 301.75,335 325.5,331.8 373.6,330.5" fill="none" stroke="#000" stroke-width="0.9"/>
<polyline points="277.9,369.5 289.8,336.75 301.75,342.5 325.5,334.5 373.6,327.5" fill="none" stroke="#000" stroke-width="0.9"/>
<line x1="289.8" y1="305.75" x2="289.8" y2="335.75" stroke="#333" stroke-width="0.6" />
<line x1="288.8" y1="305.75" x2="290.8" y2="305.75" stroke="#333" stroke-width="0.6" />
<line x1="288.8" y1="335.75" x2="290.8" y2="335.75" stroke="#333" stroke-width="0.6" />
<line x1="301.75" y1="326" x2="301.75" y2="344" stroke="#333" stroke-width="0.6" />
<line x1="300.75" y1="326" x2="302.75" y2="326" stroke="#333" stroke-width="0.6" />
<line x1="300.75" y1="344" x2="302.75" y2="344" stroke="#333" stroke-width="0.6" />
<line x1="325.5" y1="319.5" x2="325.5" y2="345.0" stroke="#333" stroke-width="0.6" />
<line x1="324.5" y1="319.5" x2="326.5" y2="319.5" stroke="#333" stroke-width="0.6" />
<line x1="324.5" y1="345.0" x2="326.5" y2="345.0" stroke="#333" stroke-width="0.6" />
<line x1="373.6" y1="311.0" x2="373.6" y2="345.5" stroke="#333" stroke-width="0.6" />
<line x1="372.6" y1="311.0" x2="374.6" y2="311.0" stroke="#333" stroke-width="0.6" />
<line x1="372.6" y1="345.5" x2="374.6" y2="345.5" stroke="#333" stroke-width="0.6" />
<line x1="289.8" y1="331.75" x2="289.8" y2="341.75" stroke="#333" stroke-width="0.6" />
<line x1="288.8" y1="331.75" x2="290.8" y2="331.75" stroke="#333" stroke-width="0.6" />
<line x1="288.8" y1="341.75" x2="290.8" y2="341.75" stroke="#333" stroke-width="0.6" />
<line x1="301.75" y1="336.5" x2="301.75" y2="348.5" stroke="#333" stroke-width="0.6" />
<line x1="300.75" y1="336.5" x2="302.75" y2="336.5" stroke="#333" stroke-width="0.6" />
<line x1="300.75" y1="348.5" x2="302.75" y2="348.5" stroke="#333" stroke-width="0.6" />
<line x1="325.5" y1="323.5" x2="325.5" y2="345.5" stroke="#333" stroke-width="0.6" />
<line x1="324.5" y1="323.5" x2="326.5" y2="323.5" stroke="#333" stroke-width="0.6" />
<line x1="324.5" y1="345.5" x2="326.5" y2="345.5" stroke="#333" stroke-width="0.6" />
<line x1="373.6" y1="312.5" x2="373.6" y2="342.5" stroke="#333" stroke-width="0.6" />
<line x1="372.6" y1="312.5" x2="374.6" y2="312.5" stroke="#333" stroke-width="0.6" />
<line x1="372.6" y1="342.5" x2="374.6" y2="342.5" stroke="#333" stroke-width="0.6" />
<circle cx="277.9" cy="353.75" r="2.1" fill="#fff" stroke="#000" stroke-width="0.8"/>
<circle cx="289.8" cy="320.75" r="2.1" fill="#fff" stroke="#000" stroke-width="0.8"/>
<circle cx="301.75" cy="335" r="2.1" fill="#fff" stroke="#000" stroke-width="0.8"/>
<circle cx="325.5" cy="331.8" r="2.1" fill="#fff" stroke="#000" stroke-width="0.8"/>
<circle cx="373.6" cy="330.5" r="2.1" fill="#fff" stroke="#000" stroke-width="0.8"/>
<circle cx="277.9" cy="369.5" r="2.1" fill="#000" stroke="#000" stroke-width="0.8"/>
<circle cx="289.8" cy="336.75" r="2.1" fill="#000" stroke="#000" stroke-width="0.8"/>
<circle cx="301.75" cy="342.5" r="2.1" fill="#000" stroke="#000" stroke-width="0.8"/>
<circle cx="325.5" cy="334.5" r="2.1" fill="#000" stroke="#000" stroke-width="0.8"/>
<circle cx="373.6" cy="327.5" r="2.1" fill="#000" stroke="#000" stroke-width="0.8"/>
<text transform="translate(255.9,324.75) rotate(-90)" font-size="8.7" font-weight="normal" text-anchor="middle" fill="#000" stroke="#000" stroke-width="0.45" textLength="54.5" lengthAdjust="spacingAndGlyphs" >Insulin (pg/ml)</text>
<text x="325" y="392.8" font-size="8.4" font-weight="normal" text-anchor="middle" fill="#000" stroke="#000" stroke-width="0.45" textLength="40.3" lengthAdjust="spacingAndGlyphs" >Time (min)</text>
<line x1="434.5" y1="280.5" x2="434.5" y2="379.7" stroke="#222" stroke-width="0.9" />
<line x1="434.05" y1="379.25" x2="486.25" y2="379.25" stroke="#222" stroke-width="0.9" />
<line x1="432.8" y1="280.5" x2="434.5" y2="280.5" stroke="#222" stroke-width="0.7" />
<text x="430.2" y="281.9" font-size="3.9" font-weight="bold" text-anchor="end" fill="#000" stroke="#000" stroke-width="0.3" >200000</text>
<line x1="432.8" y1="329.5" x2="434.5" y2="329.5" stroke="#222" stroke-width="0.7" />
<text x="430.2" y="330.9" font-size="3.9" font-weight="bold" text-anchor="end" fill="#000" stroke="#000" stroke-width="0.3" >100000</text>
<line x1="432.8" y1="379.25" x2="434.5" y2="379.25" stroke="#222" stroke-width="0.7" />
<text x="430.2" y="380.65" font-size="3.9" font-weight="bold" text-anchor="end" fill="#000" stroke="#000" stroke-width="0.3" >0</text>
<rect x="445.5" y="329.25" width="14.5" height="50.0" fill="#fff" stroke="#000" stroke-width="0.8"/>
<line x1="452.75" y1="318.25" x2="452.75" y2="340.5" stroke="#000" stroke-width="0.8" />
<line x1="451.55" y1="318.25" x2="453.95" y2="318.25" stroke="#000" stroke-width="0.8" />
<line x1="451.55" y1="340.5" x2="453.95" y2="340.5" stroke="#000" stroke-width="0.8" />
<rect x="460" y="335" width="15" height="44.25" fill="#000" stroke="#000" stroke-width="0.8"/>
<line x1="467.5" y1="327" x2="467.5" y2="335" stroke="#000" stroke-width="0.8" />
<line x1="466.3" y1="327" x2="468.7" y2="327" stroke="#000" stroke-width="0.8" />
<line x1="466.3" y1="335" x2="468.7" y2="335" stroke="#000" stroke-width="0.8" />
<g transform="translate(410.2,373.8) rotate(-90)" font-size="8.7" stroke="#000" stroke-width="0.45">
<text x="0" y="0" textLength="48.8" lengthAdjust="spacingAndGlyphs">AUC- insulin</text>
<text x="52.8" y="0" textLength="17.0" lengthAdjust="spacingAndGlyphs">(min</text>
<text x="80" y="0" textLength="20.9" lengthAdjust="spacingAndGlyphs">pg/ml)</text>
<text x="75.4" y="1.1" font-size="12" text-anchor="middle" stroke-width="0.5">×</text>
</g>
<text x="4.1" y="418.7" font-size="15" font-weight="bold" text-anchor="start" fill="#000" stroke="#000" stroke-width="0.4" >G</text>
<line x1="29.25" y1="425.2" x2="29.25" y2="523.35" stroke="#222" stroke-width="0.9" />
<line x1="28.8" y1="522.9" x2="140" y2="522.9" stroke="#222" stroke-width="0.9" />
<line x1="27.55" y1="425.2" x2="29.25" y2="425.2" stroke="#222" stroke-width="0.7" />
<text x="24.95" y="426.59999999999997" font-size="3.9" font-weight="bold" text-anchor="end" fill="#000" stroke="#000" stroke-width="0.3" >400</text>
<line x1="27.55" y1="474.1" x2="29.25" y2="474.1" stroke="#222" stroke-width="0.7" />
<text x="24.95" y="475.5" font-size="3.9" font-weight="bold" text-anchor="end" fill="#000" stroke="#000" stroke-width="0.3" >200</text>
<line x1="27.55" y1="522.9" x2="29.25" y2="522.9" stroke="#222" stroke-width="0.7" />
<text x="24.95" y="524.3" font-size="3.9" font-weight="bold" text-anchor="end" fill="#000" stroke="#000" stroke-width="0.3" >0</text>
<line x1="29.25" y1="522.9" x2="29.25" y2="524.6" stroke="#222" stroke-width="0.7" />
<text x="29.25" y="530.5" font-size="3.9" font-weight="bold" text-anchor="middle" fill="#000" stroke="#000" stroke-width="0.3" >0</text>
<line x1="55.75" y1="522.9" x2="55.75" y2="524.6" stroke="#222" stroke-width="0.7" />
<text x="55.75" y="530.5" font-size="3.9" font-weight="bold" text-anchor="middle" fill="#000" stroke="#000" stroke-width="0.3" >30</text>
<line x1="82.5" y1="522.9" x2="82.5" y2="524.6" stroke="#222" stroke-width="0.7" />
<text x="82.5" y="530.5" font-size="3.9" font-weight="bold" text-anchor="middle" fill="#000" stroke="#000" stroke-width="0.3" >60</text>
<line x1="109.25" y1="522.9" x2="109.25" y2="524.6" stroke="#222" stroke-width="0.7" />
<text x="109.25" y="530.5" font-size="3.9" font-weight="bold" text-anchor="middle" fill="#000" stroke="#000" stroke-width="0.3" >90</text>
<line x1="136.25" y1="522.9" x2="136.25" y2="524.6" stroke="#222" stroke-width="0.7" />
<text x="136.25" y="530.5" font-size="3.9" font-weight="bold" text-anchor="middle" fill="#000" stroke="#000" stroke-width="0.3" >120</text>
<polyline points="29.25,502.5 42.5,475.75 55.75,494.25 82.5,506.75 136.25,511.8" fill="none" stroke="#000" stroke-width="0.9"/>
<polyline points="29.25,503.25 42.5,464.5 55.75,491.25 82.5,503.25 136.25,509.3" fill="none" stroke="#000" stroke-width="0.9"/>
<line x1="29.25" y1="499.5" x2="29.25" y2="505.5" stroke="#333" stroke-width="0.6" />
<line x1="28.25" y1="499.5" x2="30.25" y2="499.5" stroke="#333" stroke-width="0.6" />
<line x1="28.25" y1="505.5" x2="30.25" y2="505.5" stroke="#333" stroke-width="0.6" />
<line x1="42.5" y1="465.75" x2="42.5" y2="487.25" stroke="#333" stroke-width="0.6" />
<line x1="41.5" y1="465.75" x2="43.5" y2="465.75" stroke="#333" stroke-width="0.6" />
<line x1="41.5" y1="487.25" x2="43.5" y2="487.25" stroke="#333" stroke-width="0.6" />
<line x1="55.75" y1="489.75" x2="55.75" y2="498.75" stroke="#333" stroke-width="0.6" />
<line x1="54.75" y1="489.75" x2="56.75" y2="489.75" stroke="#333" stroke-width="0.6" />
<line x1="54.75" y1="498.75" x2="56.75" y2="498.75" stroke="#333" stroke-width="0.6" />
<line x1="82.5" y1="502.45" x2="82.5" y2="511.05" stroke="#333" stroke-width="0.6" />
<line x1="81.5" y1="502.45" x2="83.5" y2="502.45" stroke="#333" stroke-width="0.6" />
<line x1="81.5" y1="511.05" x2="83.5" y2="511.05" stroke="#333" stroke-width="0.6" />
<line x1="136.25" y1="508.8" x2="136.25" y2="514.8" stroke="#333" stroke-width="0.6" />
<line x1="135.25" y1="508.8" x2="137.25" y2="508.8" stroke="#333" stroke-width="0.6" />
<line x1="135.25" y1="514.8" x2="137.25" y2="514.8" stroke="#333" stroke-width="0.6" />
<line x1="29.25" y1="500.25" x2="29.25" y2="506.25" stroke="#333" stroke-width="0.6" />
<line x1="28.25" y1="500.25" x2="30.25" y2="500.25" stroke="#333" stroke-width="0.6" />
<line x1="28.25" y1="506.25" x2="30.25" y2="506.25" stroke="#333" stroke-width="0.6" />
<line x1="42.5" y1="455.0" x2="42.5" y2="474.0" stroke="#333" stroke-width="0.6" />
<line x1="41.5" y1="455.0" x2="43.5" y2="455.0" stroke="#333" stroke-width="0.6" />
<line x1="41.5" y1="474.0" x2="43.5" y2="474.0" stroke="#333" stroke-width="0.6" />
<line x1="55.75" y1="486.25" x2="55.75" y2="496.25" stroke="#333" stroke-width="0.6" />
<line x1="54.75" y1="486.25" x2="56.75" y2="486.25" stroke="#333" stroke-width="0.6" />
<line x1="54.75" y1="496.25" x2="56.75" y2="496.25" stroke="#333" stroke-width="0.6" />
<line x1="82.5" y1="498.75" x2="82.5" y2="507.75" stroke="#333" stroke-width="0.6" />
<line x1="81.5" y1="498.75" x2="83.5" y2="498.75" stroke="#333" stroke-width="0.6" />
<line x1="81.5" y1="507.75" x2="83.5" y2="507.75" stroke="#333" stroke-width="0.6" />
<line x1="136.25" y1="506.3" x2="136.25" y2="512.3" stroke="#333" stroke-width="0.6" />
<line x1="135.25" y1="506.3" x2="137.25" y2="506.3" stroke="#333" stroke-width="0.6" />
<line x1="135.25" y1="512.3" x2="137.25" y2="512.3" stroke="#333" stroke-width="0.6" />
<circle cx="29.25" cy="502.5" r="2.1" fill="#fff" stroke="#000" stroke-width="0.8"/>
<circle cx="42.5" cy="475.75" r="2.1" fill="#fff" stroke="#000" stroke-width="0.8"/>
<circle cx="55.75" cy="494.25" r="2.1" fill="#fff" stroke="#000" stroke-width="0.8"/>
<circle cx="82.5" cy="506.75" r="2.1" fill="#fff" stroke="#000" stroke-width="0.8"/>
<circle cx="136.25" cy="511.8" r="2.1" fill="#fff" stroke="#000" stroke-width="0.8"/>
<circle cx="29.25" cy="503.25" r="2.1" fill="#000" stroke="#000" stroke-width="0.8"/>
<circle cx="42.5" cy="464.5" r="2.1" fill="#000" stroke="#000" stroke-width="0.8"/>
<circle cx="55.75" cy="491.25" r="2.1" fill="#000" stroke="#000" stroke-width="0.8"/>
<circle cx="82.5" cy="503.25" r="2.1" fill="#000" stroke="#000" stroke-width="0.8"/>
<circle cx="136.25" cy="509.3" r="2.1" fill="#000" stroke="#000" stroke-width="0.8"/>
<text transform="translate(8.8,480.2) rotate(-90)" font-size="8.7" font-weight="normal" text-anchor="middle" fill="#000" stroke="#000" stroke-width="0.45" textLength="63.5" lengthAdjust="spacingAndGlyphs" >Total GIP (pg/ml)</text>
<text x="83.4" y="549.4" font-size="8.4" font-weight="normal" text-anchor="middle" fill="#000" stroke="#000" stroke-width="0.45" textLength="40.3" lengthAdjust="spacingAndGlyphs" >Time (min)</text>
<line x1="179.25" y1="433.5" x2="179.25" y2="529.7" stroke="#222" stroke-width="0.9" />
<line x1="178.8" y1="529.25" x2="225" y2="529.25" stroke="#222" stroke-width="0.9" />
<line x1="177.55" y1="433.5" x2="179.25" y2="433.5" stroke="#222" stroke-width="0.7" />
<text x="174.95" y="434.9" font-size="3.9" font-weight="bold" text-anchor="end" fill="#000" stroke="#000" stroke-width="0.3" >20000</text>
<line x1="177.55" y1="481" x2="179.25" y2="481" stroke="#222" stroke-width="0.7" />
<text x="174.95" y="482.4" font-size="3.9" font-weight="bold" text-anchor="end" fill="#000" stroke="#000" stroke-width="0.3" >10000</text>
<line x1="177.55" y1="529.25" x2="179.25" y2="529.25" stroke="#222" stroke-width="0.7" />
<text x="174.95" y="530.65" font-size="3.9" font-weight="bold" text-anchor="end" fill="#000" stroke="#000" stroke-width="0.3" >0</text>
<rect x="189.6" y="478.5" width="13.400000000000006" height="50.75" fill="#fff" stroke="#000" stroke-width="0.8"/>
<line x1="196.3" y1="468" x2="196.3" y2="489.25" stroke="#000" stroke-width="0.8" />
<line x1="195.10000000000002" y1="468" x2="197.5" y2="468" stroke="#000" stroke-width="0.8" />
<line x1="195.10000000000002" y1="489.25" x2="197.5" y2="489.25" stroke="#000" stroke-width="0.8" />
<rect x="203" y="470" width="13.199999999999989" height="59.25" fill="#000" stroke="#000" stroke-width="0.8"/>
<line x1="209.6" y1="458" x2="209.6" y2="470" stroke="#000" stroke-width="0.8" />
<line x1="208.4" y1="458" x2="210.79999999999998" y2="458" stroke="#000" stroke-width="0.8" />
<line x1="208.4" y1="470" x2="210.79999999999998" y2="470" stroke="#000" stroke-width="0.8" />
<g transform="translate(154.8,517.3) rotate(-90)" font-size="8.7" stroke="#000" stroke-width="0.45">
<text x="0" y="0" textLength="36.3" lengthAdjust="spacingAndGlyphs">AUC- GIP</text>
<text x="39.8" y="0" textLength="17.0" lengthAdjust="spacingAndGlyphs">(min</text>
<text x="67.1" y="0" textLength="21.1" lengthAdjust="spacingAndGlyphs">pg/ml)</text>
<text x="61.8" y="1.1" font-size="12" text-anchor="middle" stroke-width="0.5">×</text>
</g>
<text x="247.8" y="418.4" font-size="15" font-weight="bold" text-anchor="start" fill="#000" stroke="#000" stroke-width="0.4" >H</text>
<line x1="278.75" y1="425.5" x2="278.75" y2="524.2" stroke="#222" stroke-width="0.9" />
<line x1="278.3" y1="523.75" x2="391" y2="523.75" stroke="#222" stroke-width="0.9" />
<line x1="277.05" y1="425.5" x2="278.75" y2="425.5" stroke="#222" stroke-width="0.7" />
<text x="274.45" y="426.9" font-size="3.9" font-weight="bold" text-anchor="end" fill="#000" stroke="#000" stroke-width="0.3" >200</text>
<line x1="277.05" y1="450" x2="278.75" y2="450" stroke="#222" stroke-width="0.7" />
<text x="274.45" y="451.4" font-size="3.9" font-weight="bold" text-anchor="end" fill="#000" stroke="#000" stroke-width="0.3" >150</text>
<line x1="277.05" y1="474.5" x2="278.75" y2="474.5" stroke="#222" stroke-width="0.7" />
<text x="274.45" y="475.9" font-size="3.9" font-weight="bold" text-anchor="end" fill="#000" stroke="#000" stroke-width="0.3" >100</text>
<line x1="277.05" y1="499.25" x2="278.75" y2="499.25" stroke="#222" stroke-width="0.7" />
<text x="274.45" y="500.65" font-size="3.9" font-weight="bold" text-anchor="end" fill="#000" stroke="#000" stroke-width="0.3" >50</text>
<line x1="277.05" y1="523.75" x2="278.75" y2="523.75" stroke="#222" stroke-width="0.7" />
<text x="274.45" y="525.15" font-size="3.9" font-weight="bold" text-anchor="end" fill="#000" stroke="#000" stroke-width="0.3" >0</text>
<line x1="278.75" y1="523.75" x2="278.75" y2="525.45" stroke="#222" stroke-width="0.7" />
<text x="278.75" y="531.35" font-size="3.9" font-weight="bold" text-anchor="middle" fill="#000" stroke="#000" stroke-width="0.3" >0</text>
<line x1="306.25" y1="523.75" x2="306.25" y2="525.45" stroke="#222" stroke-width="0.7" />
<text x="306.25" y="531.35" font-size="3.9" font-weight="bold" text-anchor="middle" fill="#000" stroke="#000" stroke-width="0.3" >30</text>
<line x1="333.25" y1="523.75" x2="333.25" y2="525.45" stroke="#222" stroke-width="0.7" />
<text x="333.25" y="531.35" font-size="3.9" font-weight="bold" text-anchor="middle" fill="#000" stroke="#000" stroke-width="0.3" >60</text>
<line x1="360" y1="523.75" x2="360" y2="525.45" stroke="#222" stroke-width="0.7" />
<text x="360" y="531.35" font-size="3.9" font-weight="bold" text-anchor="middle" fill="#000" stroke="#000" stroke-width="0.3" >90</text>
<line x1="387.5" y1="523.75" x2="387.5" y2="525.45" stroke="#222" stroke-width="0.7" />
<text x="387.5" y="531.35" font-size="3.9" font-weight="bold" text-anchor="middle" fill="#000" stroke="#000" stroke-width="0.3" >120</text>
<polyline points="278.75,468.5 292.5,481.5 306.25,490.5 333.25,493.75 387.5,477.25" fill="none" stroke="#000" stroke-width="0.9"/>
<polyline points="278.75,468.75 292.5,482 306.25,491.25 333.25,497.5 387.5,485.5" fill="none" stroke="#000" stroke-width="0.9"/>
<line x1="292.5" y1="475.5" x2="292.5" y2="487.5" stroke="#333" stroke-width="0.6" />
<line x1="291.5" y1="475.5" x2="293.5" y2="475.5" stroke="#333" stroke-width="0.6" />
<line x1="291.5" y1="487.5" x2="293.5" y2="487.5" stroke="#333" stroke-width="0.6" />
<line x1="306.25" y1="486.0" x2="306.25" y2="495.0" stroke="#333" stroke-width="0.6" />
<line x1="305.25" y1="486.0" x2="307.25" y2="486.0" stroke="#333" stroke-width="0.6" />
<line x1="305.25" y1="495.0" x2="307.25" y2="495.0" stroke="#333" stroke-width="0.6" />
<line x1="333.25" y1="487.25" x2="333.25" y2="500.25" stroke="#333" stroke-width="0.6" />
<line x1="332.25" y1="487.25" x2="334.25" y2="487.25" stroke="#333" stroke-width="0.6" />
<line x1="332.25" y1="500.25" x2="334.25" y2="500.25" stroke="#333" stroke-width="0.6" />
<line x1="387.5" y1="466.25" x2="387.5" y2="485.25" stroke="#333" stroke-width="0.6" />
<line x1="386.5" y1="466.25" x2="388.5" y2="466.25" stroke="#333" stroke-width="0.6" />
<line x1="386.5" y1="485.25" x2="388.5" y2="485.25" stroke="#333" stroke-width="0.6" />
<line x1="292.5" y1="476.5" x2="292.5" y2="487.5" stroke="#333" stroke-width="0.6" />
<line x1="291.5" y1="476.5" x2="293.5" y2="476.5" stroke="#333" stroke-width="0.6" />
<line x1="291.5" y1="487.5" x2="293.5" y2="487.5" stroke="#333" stroke-width="0.6" />
<line x1="306.25" y1="487.25" x2="306.25" y2="495.25" stroke="#333" stroke-width="0.6" />
<line x1="305.25" y1="487.25" x2="307.25" y2="487.25" stroke="#333" stroke-width="0.6" />
<line x1="305.25" y1="495.25" x2="307.25" y2="495.25" stroke="#333" stroke-width="0.6" />
<line x1="333.25" y1="493.5" x2="333.25" y2="501.5" stroke="#333" stroke-width="0.6" />
<line x1="332.25" y1="493.5" x2="334.25" y2="493.5" stroke="#333" stroke-width="0.6" />
<line x1="332.25" y1="501.5" x2="334.25" y2="501.5" stroke="#333" stroke-width="0.6" />
<line x1="387.5" y1="479.5" x2="387.5" y2="491.5" stroke="#333" stroke-width="0.6" />
<line x1="386.5" y1="479.5" x2="388.5" y2="479.5" stroke="#333" stroke-width="0.6" />
<line x1="386.5" y1="491.5" x2="388.5" y2="491.5" stroke="#333" stroke-width="0.6" />
<circle cx="278.75" cy="468.5" r="2.1" fill="#fff" stroke="#000" stroke-width="0.8"/>
<circle cx="292.5" cy="481.5" r="2.1" fill="#fff" stroke="#000" stroke-width="0.8"/>
<circle cx="306.25" cy="490.5" r="2.1" fill="#fff" stroke="#000" stroke-width="0.8"/>
<circle cx="333.25" cy="493.75" r="2.1" fill="#fff" stroke="#000" stroke-width="0.8"/>
<circle cx="387.5" cy="477.25" r="2.1" fill="#fff" stroke="#000" stroke-width="0.8"/>
<circle cx="278.75" cy="468.75" r="2.1" fill="#000" stroke="#000" stroke-width="0.8"/>
<circle cx="292.5" cy="482" r="2.1" fill="#000" stroke="#000" stroke-width="0.8"/>
<circle cx="306.25" cy="491.25" r="2.1" fill="#000" stroke="#000" stroke-width="0.8"/>
<circle cx="333.25" cy="497.5" r="2.1" fill="#000" stroke="#000" stroke-width="0.8"/>
<circle cx="387.5" cy="485.5" r="2.1" fill="#000" stroke="#000" stroke-width="0.8"/>
<text transform="translate(255.5,471.5) rotate(-90)" font-size="8.7" font-weight="normal" text-anchor="middle" fill="#000" stroke="#000" stroke-width="0.45" textLength="82.5" lengthAdjust="spacingAndGlyphs" >Blood glucose (mg/dl)</text>
<text x="334.6" y="549.5" font-size="8.4" font-weight="normal" text-anchor="middle" fill="#000" stroke="#000" stroke-width="0.45" textLength="40.3" lengthAdjust="spacingAndGlyphs" >Time (min)</text>
<line x1="435.6" y1="433" x2="435.6" y2="529.7" stroke="#222" stroke-width="0.9" />
<line x1="435.15000000000003" y1="529.25" x2="493.75" y2="529.25" stroke="#222" stroke-width="0.9" />
<line x1="433.90000000000003" y1="433" x2="435.6" y2="433" stroke="#222" stroke-width="0.7" />
<text x="431.3" y="434.4" font-size="3.9" font-weight="bold" text-anchor="end" fill="#000" stroke="#000" stroke-width="0.3" >20000</text>
<line x1="433.90000000000003" y1="481" x2="435.6" y2="481" stroke="#222" stroke-width="0.7" />
<text x="431.3" y="482.4" font-size="3.9" font-weight="bold" text-anchor="end" fill="#000" stroke="#000" stroke-width="0.3" >10000</text>
<line x1="433.90000000000003" y1="529.25" x2="435.6" y2="529.25" stroke="#222" stroke-width="0.7" />
<text x="431.3" y="530.65" font-size="3.9" font-weight="bold" text-anchor="end" fill="#000" stroke="#000" stroke-width="0.3" >0</text>
<rect x="447.5" y="484.25" width="16.75" height="45.0" fill="#fff" stroke="#000" stroke-width="0.8"/>
<line x1="455.875" y1="477.5" x2="455.875" y2="491.75" stroke="#000" stroke-width="0.8" />
<line x1="454.675" y1="477.5" x2="457.075" y2="477.5" stroke="#000" stroke-width="0.8" />
<line x1="454.675" y1="491.75" x2="457.075" y2="491.75" stroke="#000" stroke-width="0.8" />
<rect x="464.25" y="488.5" width="17.0" height="40.75" fill="#000" stroke="#000" stroke-width="0.8"/>
<line x1="472.75" y1="485" x2="472.75" y2="488.5" stroke="#000" stroke-width="0.8" />
<line x1="471.55" y1="485" x2="473.95" y2="485" stroke="#000" stroke-width="0.8" />
<line x1="471.55" y1="488.5" x2="473.95" y2="488.5" stroke="#000" stroke-width="0.8" />
<g transform="translate(409.6,524.8) rotate(-90)" font-size="8.7" stroke="#000" stroke-width="0.45">
<text x="0" y="0" textLength="50.7" lengthAdjust="spacingAndGlyphs">AUC- glucose</text>
<text x="54.3" y="0" textLength="16.0" lengthAdjust="spacingAndGlyphs">(min</text>
<text x="79.3" y="0" textLength="23.0" lengthAdjust="spacingAndGlyphs">mg/dl)</text>
<text x="75.1" y="1.1" font-size="12" text-anchor="middle" stroke-width="0.5">×</text>
</g>
</g>
</svg>
</body>
</html>
